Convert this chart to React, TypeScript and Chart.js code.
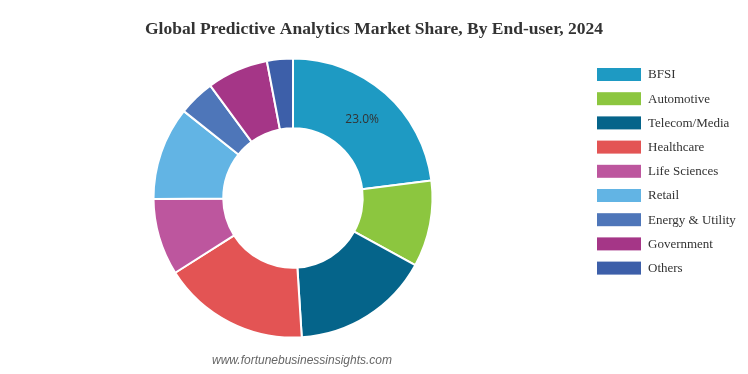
import React, { useEffect, useRef } from "react";
import { Chart, registerables } from "chart.js";

Chart.register(...registerables);

const TITLE = "Global Predictive Analytics Market Share, By End-user, 2024";
const WATERMARK = "www.fortunebusinessinsights.com";
const categories = [
  "BFSI",
  "Automotive",
  "Telecom/Media",
  "Healthcare",
  "Life Sciences",
  "Retail",
  "Energy & Utility",
  "Government",
  "Others",
];
const shares = [23.0, 10.0, 16.0, 17.0, 8.9, 10.8, 4.2, 7.1, 3.0];
const shownLabels = ["23.0%", "", "", "", "", "", "", "", ""];
const colors = [
  "#1e9ac3",
  "#8cc63f",
  "#05648a",
  "#e35454",
  "#bd569e",
  "#62b4e4",
  "#4e76b9",
  "#a53687",
  "#3d5fa9",
];

const extrasPlugin = {
  id: "extras",
  afterDraw(chart: any) {
    const ctx = chart.ctx;
    ctx.save();
    // title
    ctx.font = 'bold 17.5px "Liberation Serif", "Times New Roman", serif';
    ctx.fillStyle = "#333333";
    ctx.textAlign = "center";
    ctx.textBaseline = "alphabetic";
    ctx.fillText(TITLE, 374, 33.5);
    // slice labels
    const meta = chart.getDatasetMeta(0);
    ctx.font = '12px "Open Sans", "Noto Sans", sans-serif';
    ctx.fillStyle = "#333333";
    ctx.textAlign = "center";
    ctx.textBaseline = "middle";
    meta.data.forEach((arc: any, i: number) => {
      const t = shownLabels[i];
      if (!t) return;
      const p = arc.tooltipPosition();
      ctx.fillText(t, p.x, p.y);
    });
    // legend
    const boxX = 597;
    const boxW = 44;
    const boxH = 13;
    const top0 = 68;
    const step = 24.2;
    ctx.textAlign = "left";
    ctx.font = '13px "Liberation Serif", "Times New Roman", serif';
    categories.forEach((c, i) => {
      const y = top0 + step * i;
      ctx.fillStyle = colors[i];
      ctx.fillRect(boxX, y, boxW, boxH);
      ctx.fillStyle = "#333333";
      ctx.fillText(c, 648, y + boxH / 2 + 0.5);
    });
    // watermark
    ctx.font = 'italic 12px "Liberation Sans", Arial, sans-serif';
    ctx.fillStyle = "#666666";
    ctx.textAlign = "center";
    ctx.fillText(WATERMARK, 302, 361);
    ctx.restore();
  },
};

export default function App() {
  const ref = useRef<HTMLCanvasElement | null>(null);
  useEffect(() => {
    document.body.style.margin = "0";
    const canvas = ref.current;
    if (!canvas) return;
    const chart = new Chart(canvas, {
      type: "doughnut",
      data: {
        labels: categories,
        datasets: [
          {
            data: shares,
            backgroundColor: colors,
            borderColor: "#ffffff",
            borderWidth: 2,
            hoverOffset: 0,
          },
        ],
      },
      options: {
        responsive: false,
        animation: false,
        devicePixelRatio: 1,
        cutout: "50%",
        layout: { padding: { left: 0, right: 162, top: 57.5, bottom: 35.5 } },
        plugins: {
          legend: { display: false },
          tooltip: { enabled: false },
          title: { display: false },
        },
      },
      plugins: [extrasPlugin],
    });
    return () => chart.destroy();
  }, []);
  return (
    <div style={{ width: 748, height: 374, background: "#ffffff" }}>
      <canvas ref={ref} width={748} height={374} style={{ display: "block" }} />
    </div>
  );
}
